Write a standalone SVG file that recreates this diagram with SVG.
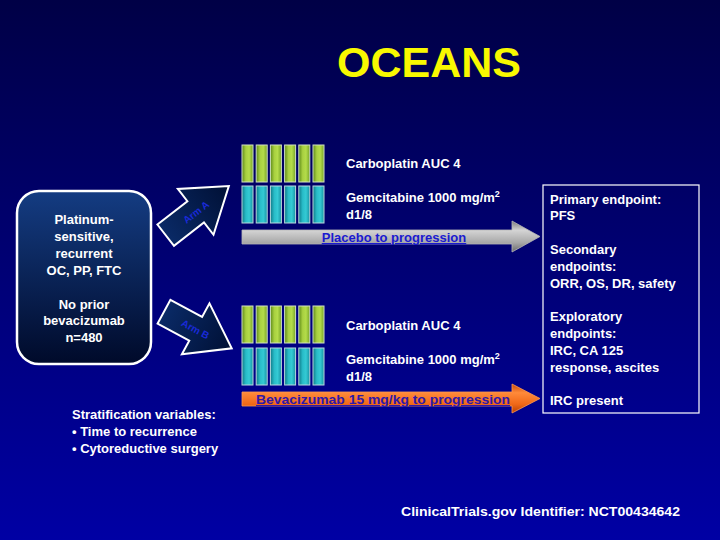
<svg xmlns="http://www.w3.org/2000/svg" width="720" height="540" viewBox="0 0 720 540">
<defs>
<linearGradient id="bg" x1="0" y1="0" x2="0" y2="1">
<stop offset="0" stop-color="#000046"/>
<stop offset="1" stop-color="#0000a4"/>
</linearGradient>
<linearGradient id="boxg" x1="0" y1="0" x2="0" y2="1">
<stop offset="0" stop-color="#143c82"/>
<stop offset="1" stop-color="#000a2a"/>
</linearGradient>
<linearGradient id="armg" x1="0" y1="0" x2="1" y2="0">
<stop offset="0" stop-color="#0a2a66"/>
<stop offset="1" stop-color="#001035"/>
</linearGradient>
<linearGradient id="green" x1="0" y1="0" x2="1" y2="0">
<stop offset="0" stop-color="#5e8a1a"/>
<stop offset="0.35" stop-color="#a8d040"/>
<stop offset="0.65" stop-color="#b4dc4a"/>
<stop offset="1" stop-color="#78a428"/>
</linearGradient>
<linearGradient id="teal" x1="0" y1="0" x2="1" y2="0">
<stop offset="0" stop-color="#107a88"/>
<stop offset="0.35" stop-color="#28bcc8"/>
<stop offset="0.65" stop-color="#34cad4"/>
<stop offset="1" stop-color="#1894a4"/>
</linearGradient>
<linearGradient id="gray" x1="0" y1="0" x2="0" y2="1">
<stop offset="0" stop-color="#7a7a7a"/>
<stop offset="0.3" stop-color="#d4d4d4"/>
<stop offset="0.7" stop-color="#a8a8a8"/>
<stop offset="1" stop-color="#6a6a6a"/>
</linearGradient>
<linearGradient id="orange" x1="0" y1="0" x2="0" y2="1">
<stop offset="0" stop-color="#c84808"/>
<stop offset="0.3" stop-color="#ff8a3a"/>
<stop offset="0.7" stop-color="#f06818"/>
<stop offset="1" stop-color="#b84000"/>
</linearGradient>
<g id="bar6g">
<rect x="0" y="0" width="11" height="37" fill="url(#green)" stroke="#cfe0c0" stroke-width="1"/>
<rect x="14.2" y="0" width="11" height="37" fill="url(#green)" stroke="#cfe0c0" stroke-width="1"/>
<rect x="28.4" y="0" width="11" height="37" fill="url(#green)" stroke="#cfe0c0" stroke-width="1"/>
<rect x="42.6" y="0" width="11" height="37" fill="url(#green)" stroke="#cfe0c0" stroke-width="1"/>
<rect x="56.8" y="0" width="11" height="37" fill="url(#green)" stroke="#cfe0c0" stroke-width="1"/>
<rect x="71" y="0" width="11" height="37" fill="url(#green)" stroke="#cfe0c0" stroke-width="1"/>
</g>
<g id="bar6t">
<rect x="0" y="0" width="11" height="37" fill="url(#teal)" stroke="#b8d8dc" stroke-width="1"/>
<rect x="14.2" y="0" width="11" height="37" fill="url(#teal)" stroke="#b8d8dc" stroke-width="1"/>
<rect x="28.4" y="0" width="11" height="37" fill="url(#teal)" stroke="#b8d8dc" stroke-width="1"/>
<rect x="42.6" y="0" width="11" height="37" fill="url(#teal)" stroke="#b8d8dc" stroke-width="1"/>
<rect x="56.8" y="0" width="11" height="37" fill="url(#teal)" stroke="#b8d8dc" stroke-width="1"/>
<rect x="71" y="0" width="11" height="37" fill="url(#teal)" stroke="#b8d8dc" stroke-width="1"/>
</g>
</defs>
<style>
text { font-family: "Liberation Sans", Arial, sans-serif; font-weight: bold; }
.w { fill: #ffffff; font-size: 13px; }
.c { text-anchor: middle; }
.arm { fill: url(#armg); stroke: #ffffff; stroke-width: 2; stroke-linejoin: miter; }
.armlbl { fill: #1a2ad8; font-size: 10px; text-anchor: middle; }
</style>
<rect x="0" y="0" width="720" height="540" fill="url(#bg)"/>

<text x="429" y="77" font-size="43" fill="#f8f800" text-anchor="middle">OCEANS</text>

<g id="population">
<rect x="17" y="191" width="134" height="173" rx="22" ry="22" fill="url(#boxg)" stroke="#ffffff" stroke-width="2.5"/>
<text class="w c" x="84" y="224">Platinum-</text>
<text class="w c" x="84" y="241">sensitive,</text>
<text class="w c" x="84" y="258">recurrent</text>
<text class="w c" x="84" y="275">OC, PP, FTC</text>
<text class="w c" x="84" y="309">No prior</text>
<text class="w c" x="84" y="325">bevacizumab</text>
<text class="w c" x="84" y="342">n=480</text>
</g>

<g id="connectors">
<g id="armA" transform="translate(165.7,235.2) rotate(-37.9)">
<path class="arm" d="M0,-13.5 L38,-13.5 L38,-29 L80,0 L38,29 L38,13.5 L0,13.5 Z"/>
<text class="armlbl" x="38" y="4">Arm A</text>
</g>
<g id="armB" transform="translate(164,311.7) rotate(28.4)">
<path class="arm" d="M0,-13.5 L36,-13.5 L36,-29 L77,0 L36,29 L36,13.5 L0,13.5 Z"/>
<text class="armlbl" x="36" y="4">Arm B</text>
</g>
<g id="placeboArrow">
<path d="M242,230 H512 V221 L540,236.5 L512,252 V244 H242 Z" fill="url(#gray)" stroke="#b8b8b8" stroke-width="0.8"/>
<text x="394" y="242" font-size="13" fill="#1a1ad0" text-anchor="middle" text-decoration="underline">Placebo to progression</text>
</g>
<g id="bevArrow">
<path d="M242,392 H512 V384 L540,398.5 L512,413 V406 H242 Z" fill="url(#orange)" stroke="#ff9a50" stroke-width="0.8"/>
<text x="256" y="404" font-size="13" fill="#3018a8" textLength="254" lengthAdjust="spacingAndGlyphs" text-decoration="underline">Bevacizumab 15 mg/kg to progression</text>
</g>
</g>

<g id="armA-regimen">
<use href="#bar6g" x="242" y="145"/>
<use href="#bar6t" x="242" y="186"/>
<text class="w" x="346" y="168">Carboplatin AUC 4</text>
<text class="w" x="346" y="202">Gemcitabine 1000 mg/m<tspan font-size="9" dy="-5">2</tspan></text>
<text class="w" x="346" y="219">d1/8</text>
</g>

<g id="armB-regimen">
<use href="#bar6g" x="242" y="306"/>
<use href="#bar6t" x="242" y="348"/>
<text class="w" x="346" y="330">Carboplatin AUC 4</text>
<text class="w" x="346" y="364">Gemcitabine 1000 mg/m<tspan font-size="9" dy="-5">2</tspan></text>
<text class="w" x="346" y="381">d1/8</text>
</g>

<g id="endpoints">
<rect x="543" y="185" width="156" height="228" fill="none" stroke="#ffffff" stroke-width="1.2"/>
<text class="w" x="550" y="204">Primary endpoint:</text>
<text class="w" x="550" y="220">PFS</text>
<text class="w" x="550" y="254">Secondary</text>
<text class="w" x="550" y="271">endpoints:</text>
<text class="w" x="550" y="288">ORR, OS, DR, safety</text>
<text class="w" x="550" y="321">Exploratory</text>
<text class="w" x="550" y="338">endpoints:</text>
<text class="w" x="550" y="355">IRC, CA 125</text>
<text class="w" x="550" y="372">response, ascites</text>
<text class="w" x="550" y="405">IRC present</text>
</g>

<g id="stratification">
<text class="w" x="72" y="419">Stratification variables:</text>
<text class="w" x="72" y="436">• Time to recurrence</text>
<text class="w" x="72" y="453">• Cytoreductive surgery</text>
</g>

<text class="w" x="401" y="516" textLength="279" lengthAdjust="spacingAndGlyphs">ClinicalTrials.gov Identifier: NCT00434642</text>
</svg>
